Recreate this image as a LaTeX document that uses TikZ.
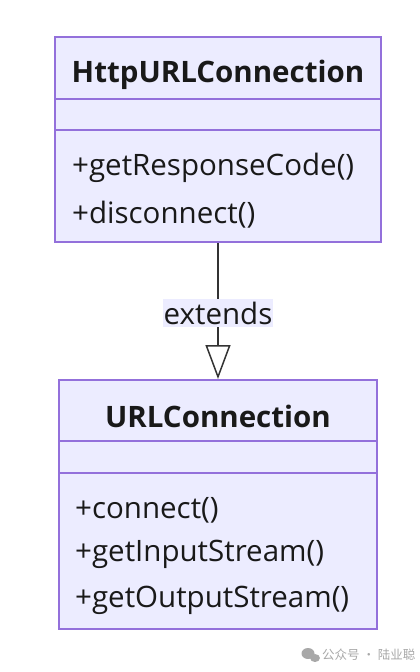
\documentclass[tikz,border=0pt]{standalone}
\usepackage{fontspec}
\setmainfont{Open Sans}
\newfontfamily\cjk{Noto Sans CJK SC}
\usetikzlibrary{arrows.meta}
\definecolor{boxfill}{HTML}{ECECFF}
\definecolor{boxline}{HTML}{9370DB}
\definecolor{edgeline}{HTML}{333333}
\definecolor{wmgray}{HTML}{A8A8A8}
\tikzset{
  classbox/.style={draw=boxline, fill=boxfill, line width=2pt, inner sep=0pt},
  divider/.style={draw=boxline, line width=2pt},
  titletext/.style={font=\fontsize{29.5}{34}\selectfont\bfseries, text=black!90, inner sep=0pt},
  membertext/.style={font=\fontsize{29.5}{34}\selectfont, text=black!90, inner sep=0pt, anchor=west},
  edgelabel/.style={font=\fontsize{29.5}{34}\selectfont, fill=boxfill, text=black!90, inner xsep=1pt, inner ysep=3pt},
  inherit/.style={draw=edgeline, line width=1.5pt, -{Triangle[open, length=34pt, width=25pt, line width=1.5pt]}},
}
\begin{document}
\begin{tikzpicture}[x=1pt,y=-1pt]
\useasboundingbox (0,0) rectangle (420,672);
% top class
\node[classbox, minimum width=326pt, minimum height=205pt] (top) at (218,139.5) {};
\draw[divider] (top.west |- 0,99) -- (top.east |- 0,99);
\draw[divider] (top.west |- 0,130) -- (top.east |- 0,130);
\node[titletext] (toptitle) at (218,74.5) {HttpURLConnection};
\node[membertext] (topm1) at (72,167.5) {+getResponseCode()};
\node[membertext] (topm2) at (72,214.5) {+disconnect()};
% bottom class
\node[classbox, minimum width=318pt, minimum height=249pt] (bot) at (218,504.5) {};
\draw[divider] (bot.west |- 0,441) -- (bot.east |- 0,441);
\draw[divider] (bot.west |- 0,473) -- (bot.east |- 0,473);
\node[titletext] (bottitle) at (218,416.5) {URLConnection};
\node[membertext] (botm1) at (75,510.5) {+connect()};
\node[membertext] (botm2) at (75,554.5) {+getInputStream()};
\node[membertext] (botm3) at (75,600.5) {+getOutputStream()};
% inheritance
\draw[inherit] (top.south) -- (bot.north);
\node[edgelabel] (lbl) at (218,313) {extends};
% watermark
\node[font=\cjk\fontsize{12.5}{15}\selectfont, text=wmgray, anchor=west, inner sep=0pt] (wm) at (322,655) {公众号 · 陆业聪};
\fill[wmgray] (308,653.5) ellipse (6.5pt and 5.5pt);
\fill[wmgray] (315,658) ellipse (5pt and 4pt);
\end{tikzpicture}
\end{document}
